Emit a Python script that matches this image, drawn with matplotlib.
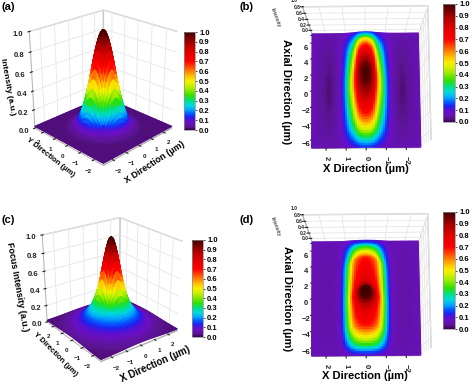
import numpy as np
import matplotlib
matplotlib.use("Agg")
import matplotlib.pyplot as plt
from matplotlib.cm import ScalarMappable
from matplotlib.colors import LinearSegmentedColormap, Normalize

plt.rcParams["font.family"] = ["Liberation Sans", "DejaVu Sans"]
plt.rcParams["font.weight"] = "bold"
plt.rcParams["grid.color"] = "#e6e6e6"
plt.rcParams["grid.linewidth"] = 0.6

W, H = 474, 384

# half profiles, 0 to 2.7 um in steps of 0.1
lateral_r = [0.0, 0.1, 0.2, 0.3, 0.4, 0.5, 0.6, 0.7, 0.8, 0.9, 1.0, 1.1, 1.2, 1.3,
             1.4, 1.5, 1.6, 1.7, 1.8, 1.9, 2.0, 2.1, 2.2, 2.3, 2.4, 2.5, 2.6, 2.7]
profile_a = [1.0, 0.988, 0.952, 0.896, 0.823, 0.737, 0.645, 0.550, 0.458, 0.372,
             0.295, 0.229, 0.173, 0.127, 0.092, 0.064, 0.044, 0.029, 0.019, 0.012,
             0.008, 0.005, 0.003, 0.002, 0.001, 0.0, 0.0, 0.0]
core_c = [0.806, 0.787, 0.730, 0.646, 0.543, 0.434, 0.331, 0.240, 0.166, 0.109,
          0.068, 0.041, 0.023, 0.012, 0.006, 0.003, 0.002, 0.001, 0.0, 0.0,
          0.0, 0.0, 0.0, 0.0, 0.0, 0.0, 0.0, 0.0]
skirt_c = [0.590, 0.588, 0.580, 0.568, 0.552, 0.533, 0.510, 0.483, 0.454, 0.423,
           0.391, 0.358, 0.325, 0.292, 0.260, 0.230, 0.203, 0.177, 0.153, 0.131,
           0.112, 0.096, 0.080, 0.066, 0.055, 0.045, 0.036, 0.029]
lateral_b = [0.94, 0.92, 0.88, 0.82, 0.70, 0.56, 0.45, 0.36, 0.29, 0.20,
             0.13, 0.07, 0.03, 0.01, -0.005, -0.02, -0.03, -0.035, -0.04, -0.04,
             -0.035, -0.03, -0.02, -0.015, -0.01, -0.005, 0.0, 0.0]
lateral_d = [0.94, 0.93, 0.91, 0.88, 0.84, 0.78, 0.68, 0.57, 0.44, 0.33,
             0.22, 0.12, 0.05, 0.02, 0.005, 0.0, -0.005, -0.005, -0.01, -0.01,
             -0.01, -0.01, -0.005, -0.005, 0.0, 0.0, 0.0, 0.0]
spot_lateral_d = [0.45, 0.42, 0.35, 0.24, 0.13, 0.06, 0.02, 0.0, 0.0, 0.0,
                  0.0, 0.0, 0.0, 0.0, 0.0, 0.0, 0.0, 0.0, 0.0, 0.0,
                  0.0, 0.0, 0.0, 0.0, 0.0, 0.0, 0.0, 0.0]

# axial profiles, -7 to 7 um in steps of 0.25
axial_half_b = [1.0, 1.0, 0.99, 0.98, 0.96, 0.94, 0.91, 0.89, 0.87, 0.84,
                0.81, 0.78, 0.76, 0.73, 0.70, 0.67, 0.63, 0.59, 0.55, 0.51,
                0.47, 0.42, 0.36, 0.31, 0.26, 0.21, 0.16, 0.12, 0.07]
axial_d = [0.03, 0.07, 0.13, 0.19, 0.28, 0.34, 0.39, 0.46, 0.50, 0.55,
           0.60, 0.66, 0.69, 0.71, 0.73, 0.75, 0.76, 0.77, 0.78, 0.79,
           0.80, 0.81, 0.82, 0.83, 0.84, 0.83, 0.82, 0.81,
           0.80, 0.79, 0.78, 0.77, 0.76, 0.75, 0.74, 0.73, 0.72, 0.71,
           0.70, 0.69, 0.68, 0.66, 0.62, 0.57, 0.53, 0.49, 0.45, 0.41,
           0.37, 0.33, 0.29, 0.25, 0.20, 0.15, 0.10, 0.07, 0.05]
spot_axial_d = [0.0, 0.0, 0.0, 0.0, 0.0, 0.0, 0.0, 0.0, 0.0, 0.0,
                0.0, 0.0, 0.0, 0.0, 0.0, 0.0, 0.01, 0.03, 0.06, 0.12,
                0.21, 0.32, 0.43, 0.48, 0.45, 0.43, 0.32, 0.21,
                0.12, 0.06, 0.03, 0.01, 0.0, 0.0, 0.0, 0.0, 0.0, 0.0,
                0.0, 0.0, 0.0, 0.0, 0.0, 0.0, 0.0, 0.0, 0.0, 0.0,
                0.0, 0.0, 0.0, 0.0, 0.0, 0.0, 0.0, 0.0, 0.0]

floor_a, floor_c, floor_b, floor_d = 0.02, 0.02, 0.06, 0.06

z_ticks = [0.0, 0.2, 0.4, 0.6, 0.8, 1.0]
xy_ticks = [-2, -1, 0, 1, 2]
axial_ticks = [-6, -4, -2, 0, 2, 4, 6]
bar_ticks = [0.0, 0.1, 0.2, 0.3, 0.4, 0.5, 0.6, 0.7, 0.8, 0.9, 1.0]

cmap = LinearSegmentedColormap.from_list("rainbow_origin", [
    (0.00, "#3a0050"), (0.03, "#5a1590"), (0.07, "#6a10c0"), (0.10, "#5a10d0"),
    (0.13, "#2020f0"), (0.17, "#0060ff"), (0.20, "#00a0ff"), (0.25, "#00d8e0"),
    (0.30, "#00e080"), (0.35, "#30e000"), (0.40, "#80e800"), (0.45, "#c8f000"),
    (0.50, "#f8f000"), (0.55, "#ffc000"), (0.60, "#ff8000"), (0.65, "#ff4000"),
    (0.70, "#ff0000"), (0.80, "#e00000"), (0.90, "#a00000"), (1.00, "#400000")])
norm = Normalize(0, 1)


def mirror(half):
    half = np.asarray(half, dtype=float)
    return np.concatenate([half[:0:-1], half])


def px_rect(x0, y0, w, h):
    return [x0 / W, 1 - (y0 + h) / H, w / W, h / H]


def draw_box(fig, rect, x, y, z, elev, azim, flip_x=False, aspect=(1, 1, 1)):
    ax = fig.add_axes(px_rect(*rect), projection="3d")
    ax.set_proj_type("persp", focal_length=0.6)
    ax.set_box_aspect(aspect)
    xx, yy = np.meshgrid(x, y)
    surf = ax.plot_surface(xx, yy, z, cmap=cmap, norm=norm, rstride=1, cstride=1,
                           linewidth=0, antialiased=True, shade=False)
    surf.set_edgecolor("face")
    surf.set_linewidth(0.7)
    ax.view_init(elev=elev, azim=azim)
    ax.set_xlim(x[-1], x[0]) if flip_x else ax.set_xlim(x[0], x[-1])
    ax.set_ylim(y[0], y[-1])
    ax.set_zlim(0, 1)
    for axis in (ax.xaxis, ax.yaxis, ax.zaxis):
        axis.set_pane_color((1, 1, 1, 1))
        axis.pane.set_edgecolor("#c8c8c8")
        axis.line.set_color("#b0b0b0")
        axis.line.set_linewidth(0.7)
    ax.set_zticks(z_ticks)
    ax.set_zticklabels(["%.1f" % v for v in z_ticks])
    ax.patch.set_alpha(0)
    ax.tick_params(pad=-3, colors="#222222")
    return ax


def add_bar(fig, rect):
    cax = fig.add_axes(px_rect(*rect))
    cb = fig.colorbar(ScalarMappable(norm=norm, cmap=cmap), cax=cax)
    cb.set_ticks(bar_ticks)
    cb.set_ticklabels(["%.1f" % v for v in bar_ticks])
    cb.ax.tick_params(labelsize=5.5, length=1.5, width=0.5, pad=1.5)
    cb.outline.set_edgecolor("#909090")
    cb.outline.set_linewidth(0.5)


def label(fig, x, y, s, size=6, rot=0, **kw):
    fig.text(x / W, 1 - y / H, s, fontsize=size, rotation=rot, ha="center",
             va="center", rotation_mode="anchor", **kw)


def perspective_ticks(ax):
    ax.set_xticks(xy_ticks)
    ax.set_yticks(xy_ticks)
    ax.tick_params(axis="x", labelsize=4.5, pad=-4)
    ax.tick_params(axis="y", labelsize=4.5, pad=-4)
    ax.tick_params(axis="z", labelsize=5.5)


def top_view_ticks(ax):
    ax.set_xticks(xy_ticks)
    ax.set_yticks(axial_ticks)
    ax.tick_params(axis="x", labelsize=5.5, labelrotation=-90)
    ax.tick_params(axis="y", labelsize=5.5)
    ax.tick_params(axis="z", labelsize=3.5)


fig = plt.figure(figsize=(W / 100, H / 100), dpi=100)

x = mirror(lateral_r) * np.r_[-np.ones(27), np.ones(28)]
axial = np.arange(-7, 7.01, 0.25)

# (a)
za = floor_a + np.outer(mirror(profile_a), mirror(profile_a))
ax = draw_box(fig, (15, -2, 172, 172), x, x, za, 24, -135, aspect=(1, 1, 1.05))
perspective_ticks(ax)
add_bar(fig, (184, 32, 11, 98))
label(fig, 8, 7, "(a)", 8)
label(fig, 50, 157, "Y Direction (\u00b5m)", 5.5, -38)
label(fig, 155, 162, "X Direction (\u00b5m)", 6.5, 33)
label(fig, 7, 87, "Intensity (a.u.)", 6, -80)

# (b)
zb = floor_b + np.outer(mirror(axial_half_b), mirror(lateral_b))
ax = draw_box(fig, (263, -15, 200, 200), x, axial, zb, 81, -90.5, flip_x=True, aspect=(1, 1.07, 1))
top_view_ticks(ax)
add_bar(fig, (443, 4, 12, 118))
label(fig, 247, 7, "(b)", 8)
label(fig, 366, 169, "X Direction (\u00b5m)", 8)
label(fig, 286, 92, "Axial Direction (\u00b5m)", 8, -90)
label(fig, 275, 18, "Intensity", 3.5, -70, color="#555555")

# (c)
zc = floor_c + np.outer(mirror(core_c), mirror(core_c)) + np.outer(mirror(skirt_c), mirror(skirt_c))
ax = draw_box(fig, (28, 205, 162, 162), x, x, zc, 24, -127)
perspective_ticks(ax)
add_bar(fig, (192, 240, 11, 97))
label(fig, 8, 220, "(c)", 8)
label(fig, 55, 354, "Y Direction (\u00b5m)", 5.5, -45)
label(fig, 155, 364, "X Direction (\u00b5m)", 7, 24)
label(fig, 17, 287, "Focus Intensity (a.u.)", 6.5, -80)

# (d)
zd = floor_d + np.outer(axial_d, mirror(lateral_d)) + np.outer(spot_axial_d, mirror(spot_lateral_d))
ax = draw_box(fig, (263, 193, 200, 200), x, axial, zd, 81, -90.5, flip_x=True, aspect=(1, 1.07, 1))
top_view_ticks(ax)
add_bar(fig, (443, 212, 12, 117))
label(fig, 247, 220, "(d)", 8)
label(fig, 365, 376, "X Direction (\u00b5m)", 8)
label(fig, 287, 299, "Axial Direction (\u00b5m)", 8, -90)
label(fig, 275, 227, "Intensity", 3.5, -70, color="#555555")

fig.savefig("out.png", dpi=100)
